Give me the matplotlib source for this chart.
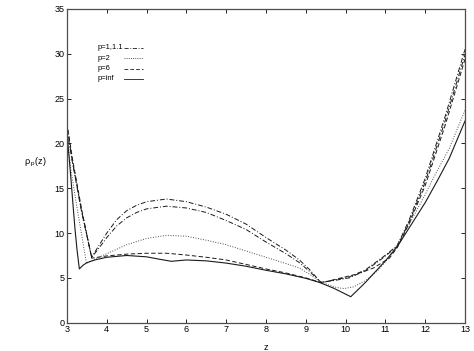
import numpy as np
import matplotlib
matplotlib.use('Agg')
import matplotlib.pyplot as plt
from matplotlib import rcParams

rcParams['font.family'] = ['Liberation Sans', 'DejaVu Sans']
rcParams['font.size'] = 6.5
rcParams['mathtext.fontset'] = 'custom'
rcParams['mathtext.rm'] = 'Liberation Sans'
rcParams['mathtext.it'] = 'Liberation Sans'

# p = 1 (dash-dot, upper)
z_p1 = [3.0, 3.14, 3.37, 3.62, 3.8, 4.0, 4.25, 4.5, 4.75, 5.0, 5.5, 6.0, 6.5, 7.0,
        7.5, 8.0, 8.5, 8.84, 9.1, 9.38, 9.7, 10.09, 10.5, 10.93, 11.3, 11.6, 12.0,
        12.5, 13.0]
v_p1 = [21.5, 17.8, 12.3, 7.3, 8.6, 10.0, 11.5, 12.5, 13.1, 13.5, 13.8, 13.5, 12.9,
        12.1, 11.0, 9.5, 8.1, 7.0, 5.9, 4.5, 4.75, 5.1, 5.9, 7.3, 8.6, 11.5, 16.1,
        23.0, 30.5]

# p = 1.1 (dash-dot, lower)
z_p11 = [3.0, 3.14, 3.37, 3.62, 3.8, 4.0, 4.25, 4.5, 4.75, 5.0, 5.5, 6.0, 6.5, 7.0,
         7.5, 8.0, 8.5, 8.84, 9.1, 9.38, 9.7, 10.09, 10.5, 10.93, 11.3, 11.6, 12.0,
         12.5, 13.0]
v_p11 = [21.8, 17.9, 12.4, 7.3, 8.3, 9.5, 10.8, 11.7, 12.3, 12.7, 13.0, 12.8, 12.3,
         11.4, 10.4, 9.0, 7.7, 6.7, 5.7, 4.5, 4.7, 5.0, 5.8, 7.2, 8.5, 11.3, 15.7,
         22.5, 29.9]

# p = 2 (dotted)
z_p2 = [3.0, 3.1, 3.26, 3.49, 3.7, 4.0, 4.5, 5.0, 5.5, 6.0, 6.5, 7.0, 7.5, 8.0, 8.5,
        8.84, 9.1, 9.35, 9.7, 9.95, 10.2, 10.5, 10.8, 11.1, 11.6, 12.0, 12.2, 12.6,
        13.0]
v_p2 = [21.0, 17.0, 12.6, 6.6, 7.1, 7.7, 8.7, 9.4, 9.75, 9.65, 9.2, 8.7, 8.0, 7.3,
        6.6, 6.1, 5.4, 4.6, 4.0, 3.8, 4.0, 4.7, 5.8, 7.3, 11.0, 14.3, 16.1, 19.4, 23.7]

# p = 6 (dashed)
z_p6 = [3.0, 3.14, 3.37, 3.62, 4.0, 4.5, 5.0, 5.5, 6.0, 6.5, 7.0, 7.5, 8.0, 8.5, 9.0,
        9.4, 9.8, 10.26, 10.7, 11.1, 11.3, 11.6, 12.0, 12.5, 13.0]
v_p6 = [22.3, 18.2, 12.6, 7.2, 7.45, 7.65, 7.75, 7.75, 7.55, 7.3, 7.0, 6.5, 6.0, 5.55,
        5.0, 4.45, 4.9, 5.4, 6.1, 7.2, 8.4, 11.1, 15.3, 22.0, 29.4]

# p = inf (solid)
z_inf = [3.0, 3.05, 3.1, 3.15, 3.2, 3.25, 3.31, 3.4, 3.5, 3.7, 4.0, 4.5, 5.0, 5.3,
         5.62, 6.0, 6.5, 7.0, 7.5, 8.0, 8.5, 9.0, 9.34, 9.7, 10.13, 10.5, 11.0, 11.3,
         11.6, 12.0, 12.3, 12.6, 13.0]
v_inf = [21.0, 18.6, 16.0, 13.2, 10.5, 8.2, 6.0, 6.4, 6.7, 7.0, 7.3, 7.5, 7.35, 7.1,
         6.85, 7.0, 6.9, 6.65, 6.3, 5.85, 5.45, 4.95, 4.5, 3.85, 2.9, 4.5, 6.9, 8.5,
         10.6, 13.4, 15.8, 18.3, 22.5]

legend_labels = ['p=1,1.1', 'p=2', 'p=6', 'p=inf']

# matlab-ish dash patterns (in points)
dashdot = (0, (5, 2, 1, 2))
dotted = (0, (1, 1.6))
dashed = (0, (4.5, 2.5))
styles = [dashdot, dotted, dashed, '-']

fig = plt.figure(figsize=(4.74, 3.51), dpi=100)
ax = fig.add_axes([67/474, 1-322.7/351, 398/474, 313.7/351])

c = '0.1'
ax.plot(z_p1, v_p1, color=c, ls=dashdot, lw=0.7)
ax.plot(z_p11, v_p11, color=c, ls=dashdot, lw=0.7)
ax.plot(z_p2, v_p2, color='0.3', ls=dotted, lw=0.7)
ax.plot(z_p6, v_p6, color=c, ls=dashed, lw=0.7)
ax.plot(z_inf, v_inf, color=c, ls='-', lw=0.8)

# legend like matlab: text first, line sample after it
for i, (lab, st) in enumerate(zip(legend_labels, styles)):
    y = 0.876 - i*0.033
    ax.text(0.077, y, lab, transform=ax.transAxes, fontsize=5.4, va='center', ha='left')
    ax.plot([0.142, 0.19], [y, y], transform=ax.transAxes, color=c, ls=st, lw=0.6)

ax.set_xlim(3, 13)
ax.set_ylim(0, 35)
ax.set_xticks(np.arange(3, 14, 1))
ax.set_yticks(np.arange(0, 36, 5))
ax.tick_params(direction='in', top=True, right=True, length=3, width=0.6, pad=2)
for s in ax.spines.values():
    s.set_linewidth(0.9)
    s.set_color('0.3')

ax.set_xlabel('z', labelpad=6)
ax.set_ylabel(r'$\rho_{\ p}$(z)', rotation=0)
ax.yaxis.set_label_coords(-0.08, 0.49)

fig.savefig('out.png', dpi=100)
